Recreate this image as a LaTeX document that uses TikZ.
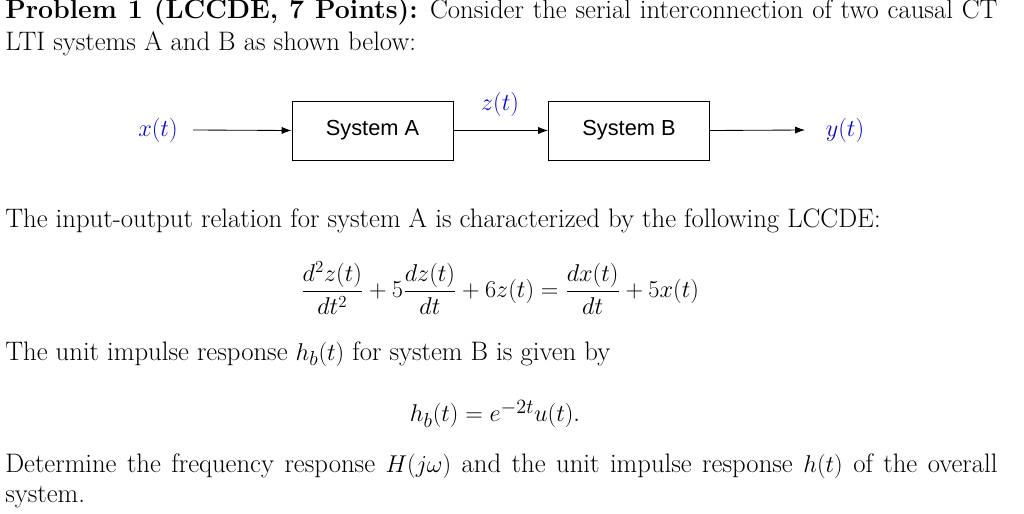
\documentclass[tikz,border=0pt]{standalone}
\usepackage{amsmath}
\usepackage{fontspec}
\newfontfamily\boxfont{Liberation Sans}
\usetikzlibrary{arrows.meta}
\definecolor{sigblue}{RGB}{10,10,190}
\begin{document}
\begin{tikzpicture}[x=0.025cm,y=-0.025cm,
  txt/.style={anchor=base west,inner sep=0pt,font=\fontsize{19}{22}\selectfont},
  sys/.style={draw,line width=0.6pt,minimum width=4.025cm,minimum height=1.475cm,font=\boxfont\fontsize{15.5}{18}\selectfont},
  sig/.style={text=sigblue,font=\fontsize{17}{20}\selectfont,inner sep=0pt},
  conn/.style={line width=0.6pt,-{Latex[length=7pt,width=5pt]}}]
\useasboundingbox (0,0) rectangle (1024,513);
\node[txt] (l1) at (5,19) {\makebox[24.8cm][s]{\textbf{Problem 1 (LCCDE, 7 Points):} Consider the serial interconnection of two causal CT}};
\node[txt] (l2) at (5,50) {LTI systems A and B as shown below:};
\node[sys] (A) at (372.5,130.5) {System A};
\node[sys] (B) at (629,130.5) {System B};
\node[sig] (x) at (158,130) {$x(t)$};
\node[sig] (y) at (845,130) {$y(t)$};
\node[sig] (z) at (500,104) {$z(t)$};
\coordinate (xs) at (193,130);
\coordinate (ye) at (805,130);
\draw[conn] (xs) -- (A.west);
\draw[conn] (A.east) -- (B.west);
\draw[conn] (B.east) -- (ye);
\node[txt] (l3) at (5,227) {The input-output relation for system A is characterized by the following LCCDE:};
\node[inner sep=0pt,font=\fontsize{18}{22}\selectfont] (eq1) at (500,288) {$\displaystyle \frac{d^2z(t)}{dt^2}+5\frac{dz(t)}{dt}+6z(t)=\frac{dx(t)}{dt}+5x(t)$};
\node[txt] (l4) at (5,360) {The unit impulse response $h_b(t)$ for system B is given by};
\node[inner sep=0pt,font=\fontsize{19}{22}\selectfont] (eq2) at (495,414) {$h_b(t)=e^{-2t}u(t).$};
\node[txt] (l5) at (5,472) {\makebox[24.8cm][s]{Determine the frequency response $H(j\omega)$ and the unit impulse response $h(t)$ of the overall}};
\node[txt] (l6) at (5,502) {system.};
\end{tikzpicture}
\end{document}
